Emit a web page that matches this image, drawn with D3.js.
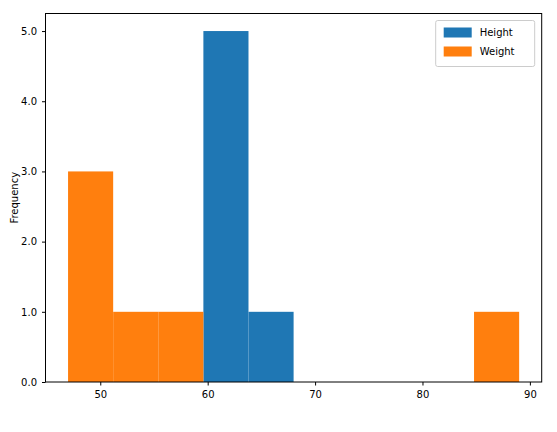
<!DOCTYPE html>
<html><head><meta charset="utf-8">
<script src="https://cdn.jsdelivr.net/npm/d3@7"></script>
<style>body{margin:0;background:#fff}text{font-family:"DejaVu Sans",sans-serif}</style>
</head><body><div id="chart"></div>
<script>
// 10 bins spanning 47..89
const binEdges = [47, 51.2, 55.4, 59.6, 63.8, 68, 72.2, 76.4, 80.6, 84.8, 89];
const heightCounts = [0, 0, 0, 5, 1, 0, 0, 0, 0, 0];
const weightCounts = [3, 1, 1, 0, 0, 0, 0, 0, 0, 1];
const series = [
    {name: 'Height', counts: heightCounts, color: '#1f77b4'},
    {name: 'Weight', counts: weightCounts, color: '#ff7f0e'}
];
const xTicks = [50, 60, 70, 80, 90];
const yTicks = [0, 1, 2, 3, 4, 5];

let svg = d3.select('#chart').append('svg').attr('width', 557).attr('height', 432);
let mLeft = 45.5, mRight = 541.7, mTop = 13.5, mBottom = 382;

let x = d3.scaleLinear().domain([44.9, 91.1]).range([mLeft, mRight]);
let y = d3.scaleLinear().domain([0, 5.25]).range([mBottom, mTop]);

series.forEach(s => {
    svg.append('g').selectAll('rect')
        .data(s.counts.map((c, i) => ({c, x0: binEdges[i], x1: binEdges[i + 1]})).filter(d => d.c > 0))
        .enter().append('rect')
        .attr('x', d => x(d.x0))
        .attr('width', d => x(d.x1) - x(d.x0))
        .attr('y', d => y(d.c))
        .attr('height', d => y(0) - y(d.c))
        .style('fill', s.color);
});

svg.append('rect').attr('x', mLeft).attr('y', mTop).attr('width', mRight - mLeft).attr('height', mBottom - mTop)
    .style('fill', 'none').style('stroke', '#000').style('stroke-width', 1);

let xa = svg.append('g').attr('transform', 'translate(0,' + mBottom + ')')
    .call(d3.axisBottom(x).tickValues(xTicks).tickSizeOuter(0).tickSize(3.5).tickPadding(5));
let ya = svg.append('g').attr('transform', 'translate(' + mLeft + ',0)')
    .call(d3.axisLeft(y).tickValues(yTicks).tickSizeOuter(0).tickSize(3.5).tickPadding(5));
[xa, ya].forEach(a => {
    a.select('.domain').remove();
    a.selectAll('text').style('font-size', '10px').style('fill', '#000');
});

svg.append('text').attr('transform', 'translate(18,' + ((mTop + mBottom) / 2) + ') rotate(-90)')
    .attr('text-anchor', 'middle').style('font-size', '10px').text('Frequency');

// legend
let lg = svg.append('g').attr('transform', 'translate(' + (mRight - 106) + ',' + (mTop + 7) + ')');
lg.append('rect').attr('width', 99).attr('height', 46).attr('rx', 2)
    .style('fill', '#fff').style('stroke', '#ccc');
series.forEach((s, i) => {
    lg.append('rect').attr('x', 8).attr('y', 7 + i * 19).attr('width', 28).attr('height', 10).style('fill', s.color);
    lg.append('text').attr('x', 44).attr('y', 12 + i * 19).attr('dominant-baseline', 'central')
        .style('font-size', '10px').text(s.name);
});
</script></body></html>
